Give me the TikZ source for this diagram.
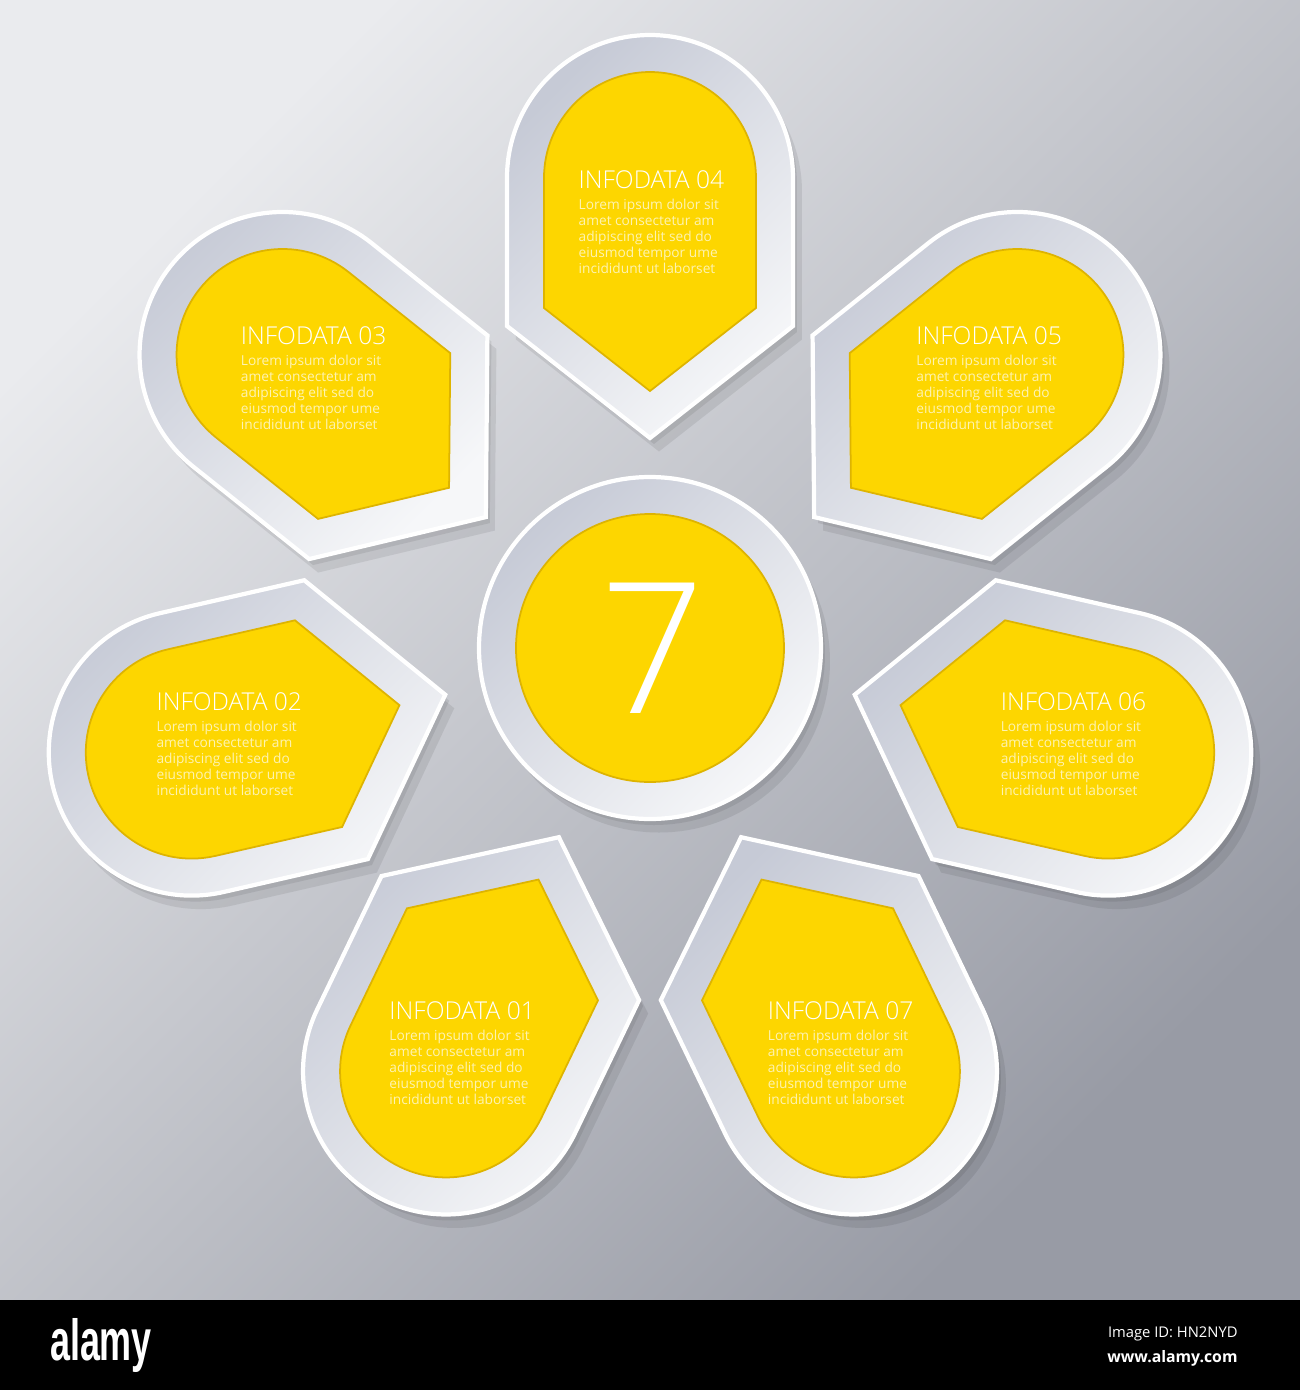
\documentclass[tikz,border=0pt]{standalone}
\usepackage{fontspec}
\setmainfont{Open Sans}
\newfontfamily\thinfont{Open Sans Light}
\newfontfamily\logofont{Liberation Sans}
\usepackage{graphicx}
\usepackage{tikz}
\usetikzlibrary{positioning}

\definecolor{bgtop}{RGB}{234,235,238}
\definecolor{bgbottom}{RGB}{152,155,165}
\definecolor{ringdark}{RGB}{198,202,214}
\definecolor{ringlight}{RGB}{246,247,249}
\definecolor{infoyellow}{RGB}{253,214,0}
\definecolor{yellowedge}{RGB}{222,180,0}

\tikzset{
  ring/.style={draw=white, line width=1.2pt, top color=ringdark, bottom color=ringlight, shading angle=45},
  core/.style={fill=infoyellow, draw=yellowedge, line width=0.5pt},
  shadow/.style={fill=black, opacity=0.08},
  title/.style={text=white, inner sep=0pt, font=\thinfont\fontsize{7}{8}\selectfont},
  body/.style={text=white!70!infoyellow, inner sep=0pt, align=left, font=\fontsize{3.9}{4.55}\selectfont},
}

\begin{document}
\begin{tikzpicture}
            \def\petalOut{(0,2.1) -- (1.43,3.22) -- (1.43,4.7) arc[start angle=0,end angle=180,radius=1.43] -- (-1.43,3.22) -- cycle}
            \def\petalIn{(0,2.57) -- (1.06,3.40) -- (1.06,4.7) arc[start angle=0,end angle=180,radius=1.06] -- (-1.06,3.40) -- cycle}
            \useasboundingbox (-6.5,-7.42) rectangle (6.5,6.48);

            % background and bottom bar
            \shade[top color=bgtop, bottom color=bgbottom, shading angle=45] (-6.5,-6.52) rectangle (6.5,6.48);
            \fill[black] (-6.5,-7.42) rectangle (6.5,-6.52);

            % soft shadows
            \foreach \s in {0.04,0.09}{
                \fill[shadow] (\s,-1.5*\s) circle (1.71);
                \foreach \i in {1,...,7}{
                    \pgfmathsetmacro\ang{90+(4-\i)*360/7}
                    \begin{scope}[shift={(\s,-1.5*\s)}, rotate=\ang-90]
                        \fill[shadow] \petalOut;
                    \end{scope}
                }
            }

            % petals
            \foreach \i/\r/\dx in {1/4.50/0.06, 2/4.33/0, 3/4.32/0, 4/4.26/0, 5/4.32/0, 6/4.33/0, 7/4.50/-0.06}{
                \pgfmathsetmacro\ang{90+(4-\i)*360/7}
                \begin{scope}[rotate=\ang-90]
                    \shade[ring] \petalOut;
                    \filldraw[core] \petalIn;
                \end{scope}
                \coordinate (spot-\i) at (\ang:\r);
                \node[title, anchor=base west] (title-\i) at ([shift={(-0.72+\dx,0.34)}]spot-\i) {INFODATA 0\i};
                \node[body, below=0.1 of title-\i.base west, anchor=north west] (body-\i)
                    {Lorem ipsum dolor sit\\amet consectetur am\\adipiscing elit sed do\\eiusmod tempor ume\\incididunt ut laborset};
            }

            % hub
            \shade[ring] (0,0) circle (1.71);
            \filldraw[core] (0,0) circle (1.34);
            \node[text=white, font=\thinfont\fontsize{52}{52}\selectfont] (hub) at (0.03,0) {7};

            % bar texts
            \node[text=white, font=\logofont\bfseries\fontsize{16.5}{18}\selectfont] (logo) at (-5.49,-6.97) {\scalebox{0.62}[1]{alamy}};
            \node[text=white, anchor=base east, font=\fontsize{4.2}{5}\selectfont] (imgid) at (6.0,-6.89) {Image ID: HN2NYD};
            \node[text=white, anchor=base east, font=\bfseries\fontsize{4.5}{5}\selectfont] (site) at (6.0,-7.14) {www.alamy.com};
        \end{tikzpicture}
\end{document}
